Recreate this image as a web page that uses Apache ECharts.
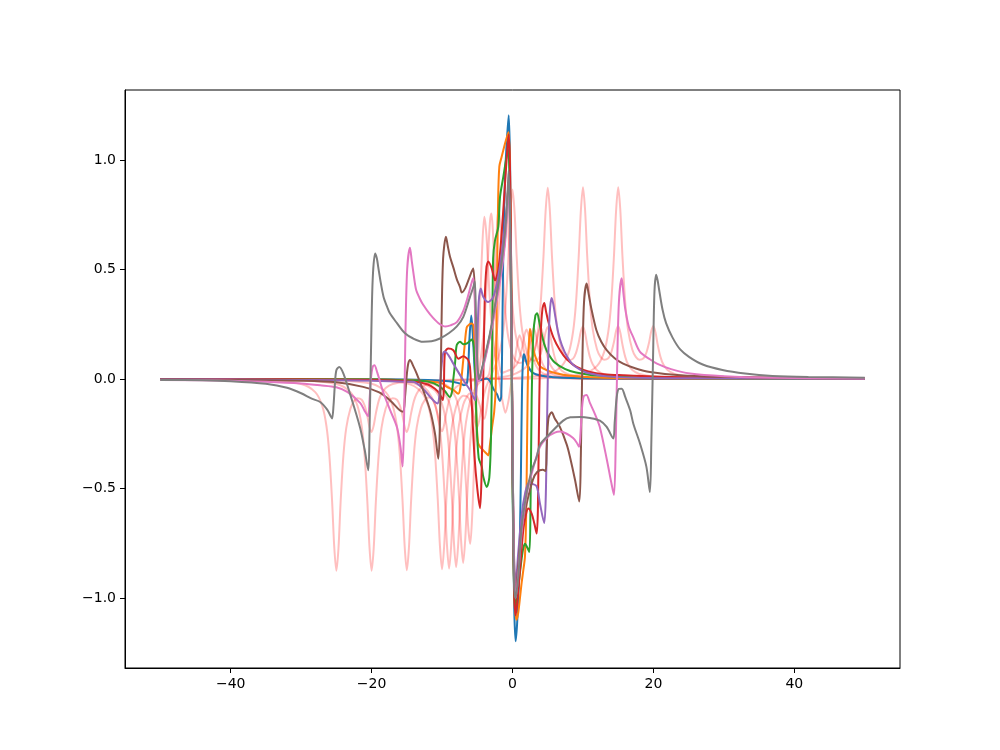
<!DOCTYPE html>
<html>
<head>
<meta charset="utf-8">
<script src="https://cdn.jsdelivr.net/npm/echarts@6/dist/echarts.min.js"></script>
<style>html,body{margin:0;padding:0;background:#fff}#c{width:1000px;height:750px}</style>
</head>
<body>
<div id="c"></div>
<script>
const xTicks = [-40, -20, 0, 20, 40];
const yTicks = [-1, -0.5, 0, 0.5, 1];

const blueData = [[-50,0],[-20,-0.001],[-12,-0.004],[-9,-0.01],[-7.5,-0.02],[-6.9,-0.028],[-6.5,-0.022],[-6.3,0.04],[-6.1,0.19],[-5.85,0.29],[-5.65,0.21],[-5.5,0.12],[-5.3,0.015],[-5,-0.006],[-4.3,-0.003],[-3.7,0.002],[-3.2,-0.01],[-2.7,-0.045],[-2.2,-0.07],[-1.8,-0.1],[-1.6,-0.08],[-1.45,0.2],[-1.3,0.6],[-1.05,0.93],[-0.8,1.09],[-0.54,1.205],[-0.35,1.0],[-0.15,0.35],[0.05,-0.55],[0.25,-1.05],[0.45,-1.198],[0.65,-1.12],[0.85,-0.98],[1.05,-0.72],[1.2,-0.42],[1.35,-0.05],[1.5,0.09],[1.63,0.113],[1.85,0.09],[2.1,0.065],[2.7,0.033],[3.3,0.022],[4.6,0.013],[7,0.006],[12,0.002],[50,0]];

const orangeData = [[-50,0],[-20,-0.002],[-13,-0.008],[-10,-0.02],[-9.3,-0.036],[-8.4,-0.05],[-7.7,-0.067],[-7.4,-0.04],[-7.1,0.05],[-6.8,0.15],[-6.5,0.235],[-6.1,0.25],[-5.8,0.253],[-5.55,0.245],[-5.35,0.1],[-5.15,-0.15],[-4.9,-0.29],[-4.6,-0.31],[-4.14,-0.326],[-3.7,-0.34],[-3.43,-0.349],[-3.2,-0.3],[-2.9,-0.22],[-2.6,-0.15],[-2.4,-0.05],[-2.25,0.3],[-2.05,0.8],[-1.87,0.97],[-1.54,1.015],[-1.06,1.076],[-0.75,1.11],[-0.54,1.127],[-0.35,0.95],[-0.15,0.35],[0.05,-0.5],[0.25,-0.98],[0.55,-1.1],[0.8,-1.07],[1.06,-1.0],[1.3,-0.93],[1.55,-0.87],[1.77,-0.81],[1.95,-0.6],[2.1,-0.2],[2.25,0.1],[2.48,0.229],[2.7,0.19],[3,0.13],[3.43,0.086],[3.9,0.058],[5,0.038],[6.3,0.025],[8,0.016],[12,0.007],[20,0.003],[50,0]];

const greenData = [[-50,0],[-20,-0.002],[-14,-0.007],[-12,-0.012],[-10.5,-0.03],[-9.6,-0.055],[-8.9,-0.082],[-8.6,-0.06],[-8.4,0.0],[-8.16,0.07],[-7.92,0.154],[-7.45,0.17],[-6.98,0.159],[-6.5,0.162],[-6.1,0.172],[-5.8,0.18],[-5.5,0.155],[-5.3,0.05],[-5.1,-0.2],[-4.8,-0.36],[-4.37,-0.4],[-4.14,-0.448],[-3.66,-0.493],[-3.29,-0.45],[-3.05,-0.265],[-2.9,0.1],[-2.75,0.55],[-2.5,0.63],[-2.02,0.695],[-1.77,0.832],[-1.3,0.924],[-0.82,1.02],[-0.6,1.05],[-0.4,0.85],[-0.2,0.3],[0,-0.45],[0.2,-0.92],[0.42,-1.05],[0.7,-0.98],[1,-0.9],[1.3,-0.82],[1.55,-0.77],[1.77,-0.752],[2.1,-0.77],[2.39,-0.79],[2.55,-0.6],[2.72,-0.1],[2.95,0.2],[3.25,0.29],[3.5,0.3],[3.8,0.26],[4.1,0.21],[4.5,0.16],[5,0.12],[6,0.075],[7.5,0.045],[9,0.03],[12,0.016],[20,0.006],[50,0]];

const redData = [[-50,0],[-20,-0.004],[-14,-0.012],[-12,-0.025],[-11,-0.045],[-10.3,-0.07],[-9.9,-0.097],[-9.75,-0.05],[-9.58,0.124],[-9.1,0.139],[-8.4,0.131],[-7.69,0.093],[-6.98,0.104],[-6.5,0.095],[-6.27,0.086],[-6.03,0.055],[-5.8,-0.1],[-5.4,-0.35],[-5,-0.5],[-4.61,-0.59],[-4.4,-0.45],[-4.2,-0.1],[-3.95,0.35],[-3.7,0.51],[-3.43,0.537],[-2.95,0.505],[-2.48,0.451],[-2.02,0.497],[-1.54,0.665],[-1.06,0.893],[-0.74,1.046],[-0.54,1.117],[-0.35,0.95],[-0.15,0.35],[0.05,-0.5],[0.25,-0.98],[0.45,-1.08],[0.75,-0.99],[1.06,-0.874],[1.53,-0.69],[1.9,-0.62],[2.24,-0.592],[2.72,-0.615],[3.1,-0.66],[3.43,-0.706],[3.6,-0.6],[3.8,-0.1],[4,0.2],[4.25,0.32],[4.51,0.347],[4.75,0.31],[5.1,0.26],[5.8,0.19],[6.74,0.131],[7.7,0.09],[9.1,0.055],[11,0.032],[13,0.022],[15.7,0.017],[20,0.011],[25,0.008],[50,0.002]];

const purpleData = [[-50,-0.001],[-30,-0.004],[-20,-0.008],[-15,-0.012],[-14.1,-0.013],[-12.7,-0.044],[-11.7,-0.082],[-11,-0.105],[-10.6,-0.112],[-10.35,-0.06],[-10.1,0.05],[-9.85,0.115],[-9.6,0.126],[-9.1,0.109],[-8.4,0.07],[-6.98,-0.006],[-6.03,-0.05],[-5.56,-0.082],[-5.32,-0.097],[-5.15,-0.05],[-5,0.15],[-4.8,0.35],[-4.51,0.413],[-4.14,0.375],[-3.43,0.352],[-2.73,0.375],[-2.02,0.467],[-1.3,0.634],[-0.82,0.78],[-0.55,0.86],[-0.35,0.7],[-0.15,0.25],[0.05,-0.45],[0.25,-0.85],[0.45,-0.93],[0.8,-0.8],[1.3,-0.62],[1.8,-0.52],[2.3,-0.475],[2.72,-0.478],[3.43,-0.49],[3.9,-0.57],[4.5,-0.658],[4.75,-0.5],[4.95,-0.1],[5.15,0.2],[5.35,0.33],[5.56,0.37],[5.8,0.34],[6.1,0.28],[6.5,0.21],[7,0.155],[7.7,0.105],[8.6,0.065],[10,0.036],[11,0.025],[13.4,0.012],[20,0.004],[50,0.001]];

const brownData = [[-50,-0.002],[-40,-0.004],[-30,-0.008],[-25,-0.015],[-21.2,-0.036],[-19,-0.06],[-17.4,-0.097],[-16,-0.143],[-15.5,-0.15],[-15.25,-0.08],[-15,0.02],[-14.8,0.07],[-14.55,0.087],[-14.1,0.06],[-13.6,0.025],[-12.7,-0.05],[-11.7,-0.143],[-11,-0.25],[-10.53,-0.364],[-10.3,-0.2],[-10.1,0.2],[-9.85,0.55],[-9.44,0.65],[-9.2,0.61],[-8.87,0.558],[-8.4,0.51],[-7.9,0.455],[-7.45,0.42],[-7.2,0.395],[-6.7,0.415],[-6.27,0.45],[-5.8,0.49],[-5.56,0.505],[-5.35,0.4],[-5.15,0.1],[-4.9,0],[-4.6,0.01],[-3.2,0.2],[-1.8,0.46],[-1.06,0.64],[-0.55,0.9],[-0.35,0.72],[-0.15,0.25],[0.05,-0.45],[0.25,-0.88],[0.45,-0.98],[0.8,-0.86],[1.3,-0.68],[2,-0.57],[2.9,-0.46],[3.5,-0.425],[4.3,-0.415],[4.7,-0.42],[4.85,-0.32],[5.1,-0.18],[5.56,-0.152],[6,-0.18],[6.74,-0.22],[7.7,-0.3],[8.16,-0.356],[8.87,-0.46],[9.48,-0.56],[9.7,-0.35],[9.9,0.05],[10.15,0.35],[10.53,0.436],[10.8,0.39],[11.24,0.314],[11.9,0.224],[12.6,0.17],[13.4,0.131],[14.5,0.095],[15.7,0.07],[17.5,0.048],[19.5,0.032],[23.8,0.017],[30,0.01],[40,0.005],[50,0.003]];

const pinkData = [[-50,-0.004],[-40,-0.008],[-35,-0.013],[-30,-0.021],[-27.3,-0.029],[-25,-0.038],[-23.4,-0.06],[-21.6,-0.11],[-21,-0.145],[-20.5,-0.17],[-20.3,-0.1],[-20.1,0],[-19.85,0.055],[-19.6,0.063],[-19.2,0.03],[-18.3,-0.065],[-17.4,-0.14],[-16.4,-0.22],[-15.9,-0.31],[-15.6,-0.4],[-15.4,-0.2],[-15.2,0.2],[-14.95,0.5],[-14.55,0.6],[-14.3,0.54],[-14,0.47],[-13.7,0.41],[-13.2,0.37],[-12.7,0.34],[-11.7,0.295],[-10.5,0.255],[-9.5,0.24],[-8.8,0.245],[-7.9,0.26],[-7,0.31],[-6.3,0.38],[-5.8,0.44],[-5.56,0.46],[-5.35,0.35],[-5.15,0.08],[-4.9,-0.01],[-4.6,0],[-3.2,0.19],[-1.8,0.44],[-1.06,0.62],[-0.55,0.88],[-0.35,0.7],[-0.15,0.25],[0.05,-0.45],[0.25,-0.9],[0.45,-1.0],[0.8,-0.9],[1.3,-0.7],[2,-0.53],[3,-0.4],[3.9,-0.31],[5,-0.265],[6,-0.245],[6.74,-0.24],[7.7,-0.25],[8.6,-0.27],[9.1,-0.29],[9.45,-0.31],[9.65,-0.25],[9.85,-0.14],[10.1,-0.08],[10.5,-0.073],[11,-0.11],[11.7,-0.16],[12.4,-0.22],[13.4,-0.37],[14,-0.47],[14.4,-0.53],[14.65,-0.3],[14.85,0.05],[15.1,0.35],[15.5,0.46],[15.75,0.39],[16,0.32],[16.5,0.24],[17.15,0.19],[18.1,0.124],[19.5,0.09],[20.5,0.07],[22.5,0.045],[25.2,0.025],[30,0.013],[37,0.006],[50,0.002]];

const grayData = [[-50,-0.004],[-44,-0.006],[-40,-0.01],[-35,-0.022],[-32,-0.04],[-30,-0.065],[-28.5,-0.09],[-27.3,-0.105],[-26.3,-0.14],[-25.8,-0.17],[-25.6,-0.18],[-25.4,-0.12],[-25.2,-0.02],[-25,0.04],[-24.6,0.055],[-24,0.025],[-23.07,-0.067],[-21.65,-0.22],[-21,-0.32],[-20.47,-0.417],[-20.3,-0.25],[-20.1,0.1],[-19.85,0.45],[-19.5,0.573],[-19.25,0.55],[-19.05,0.51],[-18.7,0.44],[-18.3,0.375],[-17.8,0.33],[-17.4,0.3],[-16.4,0.255],[-15.3,0.21],[-14.1,0.185],[-12.7,0.17],[-11.5,0.172],[-10.3,0.185],[-9,0.21],[-7.9,0.24],[-6.98,0.284],[-6.03,0.375],[-5.56,0.42],[-5.35,0.445],[-5.2,0.3],[-5,0.08],[-4.75,0],[-4.61,0.01],[-3.19,0.21],[-1.77,0.48],[-1.06,0.67],[-0.74,0.82],[-0.55,0.95],[-0.35,0.75],[-0.15,0.25],[0.05,-0.5],[0.2,-0.9],[0.38,-1.0],[0.55,-0.98],[0.82,-0.905],[1.3,-0.676],[2,-0.52],[2.7,-0.42],[3.43,-0.356],[3.9,-0.3],[5.3,-0.25],[7.2,-0.19],[8.2,-0.175],[9.58,-0.173],[11,-0.178],[12.4,-0.19],[13.37,-0.219],[14.3,-0.272],[14.5,-0.2],[14.8,-0.08],[15.1,-0.045],[15.5,-0.044],[16,-0.082],[16.7,-0.143],[17.15,-0.204],[18.1,-0.295],[19,-0.4],[19.5,-0.516],[19.7,-0.3],[19.95,0.1],[20.15,0.4],[20.4,0.476],[20.6,0.45],[20.8,0.41],[21.3,0.316],[21.8,0.255],[22.7,0.19],[23.8,0.135],[25.1,0.1],[27,0.066],[29.8,0.041],[33,0.025],[36.9,0.014],[42,0.009],[50,0.006]];

const lightBlue = [[-50,0],[-30,0],[-20,-0.001],[-15,-0.002],[-12,-0.007],[-10,-0.019],[-9,-0.037],[-8,-0.088],[-7.4,-0.17],[-7,-0.284],[-6.6,-0.484],[-6.3,-0.672],[-6,-0.753],[-5.7,-0.608],[-5.4,-0.347],[-5.2,-0.171],[-5,-0.005],[-4.8,0.162],[-4.6,0.337],[-4.3,0.598],[-4,0.741],[-3.7,0.658],[-3.4,0.466],[-3,0.261],[-2.6,0.135],[-2.2,0.052],[-1.8,-0.022],[-1.4,-0.104],[-1,-0.154],[-0.6,-0.105],[-0.3,-0.043],[0,0.018],[0.3,0.08],[0.6,0.145],[1,0.2],[1.4,0.163],[1.8,0.101],[2.3,0.054],[3,0.026],[4,0.012],[6,0.004],[10,0.001],[20,0],[50,0]];

const lightOrange = [[-50,0],[-30,0],[-20,-0.002],[-15,-0.005],[-13,-0.01],[-11,-0.026],[-10,-0.048],[-9,-0.106],[-8.4,-0.197],[-8,-0.321],[-7.6,-0.534],[-7.3,-0.737],[-7,-0.84],[-6.7,-0.728],[-6.4,-0.517],[-6,-0.288],[-5.6,-0.147],[-5.2,-0.052],[-5,-0.012],[-4.6,0.071],[-4.2,0.18],[-3.8,0.351],[-3.5,0.538],[-3.2,0.718],[-3,0.756],[-2.8,0.685],[-2.5,0.448],[-2.2,0.212],[-2,0.107],[-1.8,0.05],[-1.5,0.028],[-1.1,0.032],[-0.6,0.039],[0,0.047],[0.6,0.066],[1,0.096],[1.4,0.149],[1.7,0.2],[2,0.226],[2.3,0.198],[2.6,0.146],[3,0.09],[3.4,0.057],[4,0.033],[5,0.016],[7,0.007],[10,0.002],[20,0.001],[50,0]];

const lightGreen = [[-50,0],[-30,-0.001],[-20,-0.002],[-15,-0.009],[-13,-0.018],[-11,-0.053],[-10,-0.114],[-9.4,-0.206],[-9,-0.332],[-8.6,-0.548],[-8.3,-0.753],[-8,-0.859],[-7.7,-0.751],[-7.4,-0.544],[-7,-0.325],[-6.6,-0.197],[-6,-0.099],[-5.5,-0.056],[-5,-0.028],[-4.5,-0.009],[-4,0.003],[-3.6,0.008],[-3.3,0.025],[-3,0.102],[-2.7,0.285],[-2.4,0.542],[-2.2,0.698],[-2,0.774],[-1.7,0.695],[-1.4,0.506],[-1,0.306],[-0.6,0.191],[0,0.111],[0.5,0.082],[1,0.073],[1.6,0.082],[2,0.109],[2.4,0.158],[2.7,0.208],[3,0.233],[3.3,0.204],[3.6,0.15],[4,0.094],[4.4,0.061],[5,0.035],[6,0.018],[8,0.007],[12,0.002],[20,0.001],[50,0]];

const lightRed = [[-50,0],[-30,-0.001],[-20,-0.003],[-15,-0.013],[-13,-0.031],[-12,-0.055],[-11,-0.117],[-10.4,-0.211],[-10,-0.336],[-9.6,-0.553],[-9.3,-0.759],[-9,-0.866],[-8.7,-0.759],[-8.4,-0.553],[-8,-0.336],[-7.6,-0.211],[-7,-0.118],[-6.5,-0.082],[-6,-0.065],[-5.4,-0.066],[-5,-0.084],[-4.6,-0.126],[-4.3,-0.167],[-4,-0.181],[-3.7,-0.14],[-3.4,-0.069],[-3,0.022],[-2.4,0.161],[-2,0.303],[-1.6,0.529],[-1.3,0.741],[-1,0.852],[-0.7,0.749],[-0.4,0.546],[0,0.333],[0.4,0.211],[1,0.124],[1.5,0.092],[2,0.08],[2.6,0.088],[3,0.113],[3.4,0.162],[3.7,0.212],[4,0.236],[4.3,0.207],[4.6,0.153],[5,0.096],[5.4,0.063],[6,0.037],[7,0.02],[9,0.008],[12,0.003],[20,0.001],[50,0]];

const lightPurple = [[-50,0],[-30,-0.001],[-20,-0.005],[-15,-0.02],[-13,-0.057],[-12,-0.119],[-11.4,-0.213],[-11,-0.339],[-10.6,-0.556],[-10.3,-0.762],[-10,-0.869],[-9.7,-0.763],[-9.4,-0.558],[-9,-0.341],[-8.6,-0.217],[-8,-0.125],[-7.5,-0.091],[-7,-0.076],[-6.4,-0.081],[-6,-0.103],[-5.6,-0.15],[-5.3,-0.197],[-5,-0.219],[-4.7,-0.186],[-4.4,-0.129],[-4,-0.066],[-3.6,-0.025],[-3,0.019],[-2,0.1],[-1.4,0.199],[-1,0.329],[-0.6,0.548],[-0.3,0.755],[0,0.865],[0.3,0.759],[0.6,0.555],[1,0.34],[1.4,0.217],[2,0.128],[2.5,0.095],[3,0.083],[3.6,0.09],[4,0.115],[4.4,0.165],[4.7,0.214],[5,0.238],[5.3,0.209],[5.6,0.155],[6,0.098],[6.4,0.064],[7,0.038],[8,0.021],[10,0.009],[15,0.003],[25,0.001],[50,0]];

const lightBrown = [[-50,-0.001],[-30,-0.003],[-25,-0.006],[-20,-0.022],[-18,-0.06],[-17,-0.123],[-16.4,-0.217],[-16,-0.344],[-15.6,-0.561],[-15.3,-0.767],[-15,-0.874],[-14.7,-0.771],[-14.4,-0.562],[-14,-0.347],[-13.6,-0.222],[-13,-0.133],[-12.5,-0.099],[-12,-0.085],[-11.4,-0.092],[-11,-0.117],[-10.6,-0.166],[-10.3,-0.216],[-10,-0.239],[-9.7,-0.209],[-9.4,-0.155],[-9,-0.098],[-8.6,-0.063],[-8,-0.037],[-7,-0.019],[-5,-0.005],[-3,0.003],[-2,0.007],[0,0.019],[2,0.057],[3,0.12],[3.6,0.215],[4,0.347],[4.4,0.562],[4.7,0.766],[5,0.874],[5.3,0.771],[5.6,0.562],[6,0.347],[6.4,0.222],[7,0.133],[7.5,0.099],[8,0.086],[8.6,0.093],[9,0.118],[9.4,0.167],[9.7,0.217],[10,0.24],[10.3,0.21],[10.6,0.156],[11,0.099],[11.4,0.066],[12,0.04],[13,0.022],[15,0.01],[20,0.004],[30,0.001],[50,0]];

const lightPink = [[-50,-0.001],[-35,-0.003],[-30,-0.006],[-25,-0.023],[-23,-0.06],[-22,-0.123],[-21.4,-0.217],[-21,-0.344],[-20.6,-0.561],[-20.3,-0.767],[-20,-0.876],[-19.7,-0.773],[-19.4,-0.564],[-19,-0.349],[-18.6,-0.224],[-18,-0.135],[-17.5,-0.101],[-17,-0.088],[-16.4,-0.095],[-16,-0.12],[-15.6,-0.169],[-15.3,-0.219],[-15,-0.242],[-14.7,-0.212],[-14.4,-0.158],[-14,-0.101],[-13.6,-0.067],[-13,-0.041],[-12,-0.023],[-10,-0.01],[-5,-0.001],[0,0.004],[5,0.022],[7,0.06],[8,0.123],[8.6,0.217],[9,0.344],[9.4,0.561],[9.7,0.767],[10,0.876],[10.3,0.773],[10.6,0.564],[11,0.349],[11.4,0.224],[12,0.135],[12.5,0.101],[13,0.088],[13.6,0.095],[14,0.12],[14.4,0.169],[14.7,0.219],[15,0.242],[15.3,0.212],[15.6,0.158],[16,0.101],[16.4,0.067],[17,0.041],[18,0.023],[20,0.011],[25,0.004],[30,0.002],[50,0.001]];

const lightGray = [[-50,-0.001],[-35,-0.006],[-30,-0.023],[-28,-0.06],[-27,-0.123],[-26.4,-0.217],[-26,-0.344],[-25.6,-0.561],[-25.3,-0.767],[-25,-0.876],[-24.7,-0.773],[-24.4,-0.564],[-24,-0.349],[-23.6,-0.224],[-23,-0.135],[-22.5,-0.101],[-22,-0.088],[-21.4,-0.095],[-21,-0.12],[-20.6,-0.169],[-20.3,-0.219],[-20,-0.242],[-19.7,-0.212],[-19.4,-0.158],[-19,-0.101],[-18.6,-0.067],[-18,-0.041],[-17,-0.023],[-15,-0.011],[-10,-0.004],[0,0.001],[5,0.005],[10,0.023],[12,0.06],[13,0.123],[13.6,0.217],[14,0.344],[14.4,0.561],[14.7,0.767],[15,0.876],[15.3,0.773],[15.6,0.564],[16,0.349],[16.4,0.224],[17,0.135],[17.5,0.101],[18,0.088],[18.6,0.095],[19,0.12],[19.4,0.169],[19.7,0.219],[20,0.242],[20.3,0.212],[20.6,0.158],[21,0.101],[21.4,0.067],[22,0.041],[23,0.023],[25,0.011],[30,0.004],[40,0.001],[50,0]];

const colored = [
  ['#1f77b4', blueData], ['#ff7f0e', orangeData], ['#2ca02c', greenData], ['#d62728', redData],
  ['#9467bd', purpleData], ['#8c564b', brownData], ['#e377c2', pinkData], ['#7f7f7f', grayData]
];
const lights = [lightBlue, lightOrange, lightGreen, lightRed, lightPurple, lightBrown, lightPink, lightGray];

const fmtMinus = s => s.replace('-', '\u2212');
const series = [];
lights.forEach((d) => series.push({
  type: 'line', data: d, showSymbol: false, symbol: 'none', smooth: 0.3,
  lineStyle: { width: 2, color: 'rgba(255,0,0,0.25)' }, z: 1, silent: true
}));
colored.forEach(([c, d], i) => series.push({
  type: 'line', data: d, showSymbol: false, symbol: 'none', smooth: 0.3,
  lineStyle: { width: 2, color: c }, itemStyle: { color: c }, z: 2 + i, silent: true
}));

const chart = echarts.init(document.getElementById('c'), null, { renderer: 'canvas' });
chart.setOption({
  animation: false,
  backgroundColor: '#fff',
  grid: { left: 125, right: 100, top: 90, bottom: 82, show: true, borderColor: '#000', borderWidth: 1 },
  xAxis: {
    type: 'value', min: -55, max: 55,
    axisLine: { show: true, onZero: false, lineStyle: { color: '#000', width: 1 } },
    axisTick: { show: true, customValues: xTicks, length: 5, inside: false, lineStyle: { color: '#000' } },
    axisLabel: { customValues: xTicks, color: '#000', fontSize: 14, fontFamily: 'DejaVu Sans', margin: 9,
      formatter: v => fmtMinus(String(v)) },
    splitLine: { show: false }
  },
  yAxis: {
    type: 'value', min: -1.32, max: 1.32,
    axisLine: { show: true, onZero: false, lineStyle: { color: '#000', width: 1 } },
    axisTick: { show: true, customValues: yTicks, length: 5, inside: false, lineStyle: { color: '#000' } },
    axisLabel: { customValues: yTicks, color: '#000', fontSize: 14, fontFamily: 'DejaVu Sans', margin: 9,
      formatter: v => fmtMinus(Number(v).toFixed(1)) },
    splitLine: { show: false }
  },
  series: series
});
</script>
</body>
</html>
